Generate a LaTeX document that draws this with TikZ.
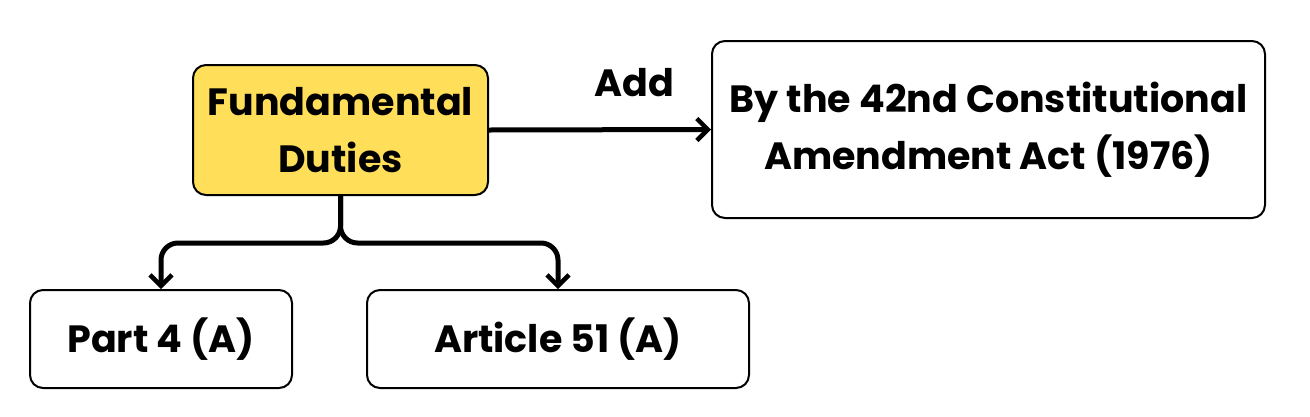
\documentclass[tikz,border=0pt]{standalone}
\usepackage{fontspec}
\setmainfont{Poppins}
\usetikzlibrary{arrows.meta}
\definecolor{dutyyellow}{HTML}{FFDE59}

\begin{document}
\begin{tikzpicture}[x=1pt,y=-1pt,
    box/.style={draw=black, line width=2pt, rounded corners=13pt, align=center,
      inner sep=0pt, font=\fontsize{38}{57}\selectfont\bfseries},
    link/.style={line width=5pt, -{Straight Barb[length=11pt,width=22pt,line width=4.5pt]}}]
      \useasboundingbox (0,0) rectangle (1310,416);
      % boxes
      \node [box, fill=dutyyellow, minimum width=295, minimum height=130] (fd) at (340.5,130) {Fundamental\\Duties};
      \node [box, fill=white, minimum width=553, minimum height=177] (act) at (988.5,129.5) {By the 42nd Constitutional\\Amendment Act (1976)};
      \node [box, fill=white, minimum width=262, minimum height=98] (part) at (161,339) {Part 4 (A)};
      \node [box, fill=white, minimum width=382, minimum height=98] (art) at (558,339) {Article 51 (A)};
      % arrows
      \draw [link] (fd.east) -- (act.west);
      \node [font=\fontsize{38}{40}\selectfont\bfseries, inner sep=0pt] (add) at (634,83) {Add};
      \draw [link, rounded corners=17pt] (fd.south) |- (part.north |- 0,243) -- (part.north);
      \draw [link, rounded corners=17pt] (fd.south) |- (art.north |- 0,243) -- (art.north);
\end{tikzpicture}
\end{document}
